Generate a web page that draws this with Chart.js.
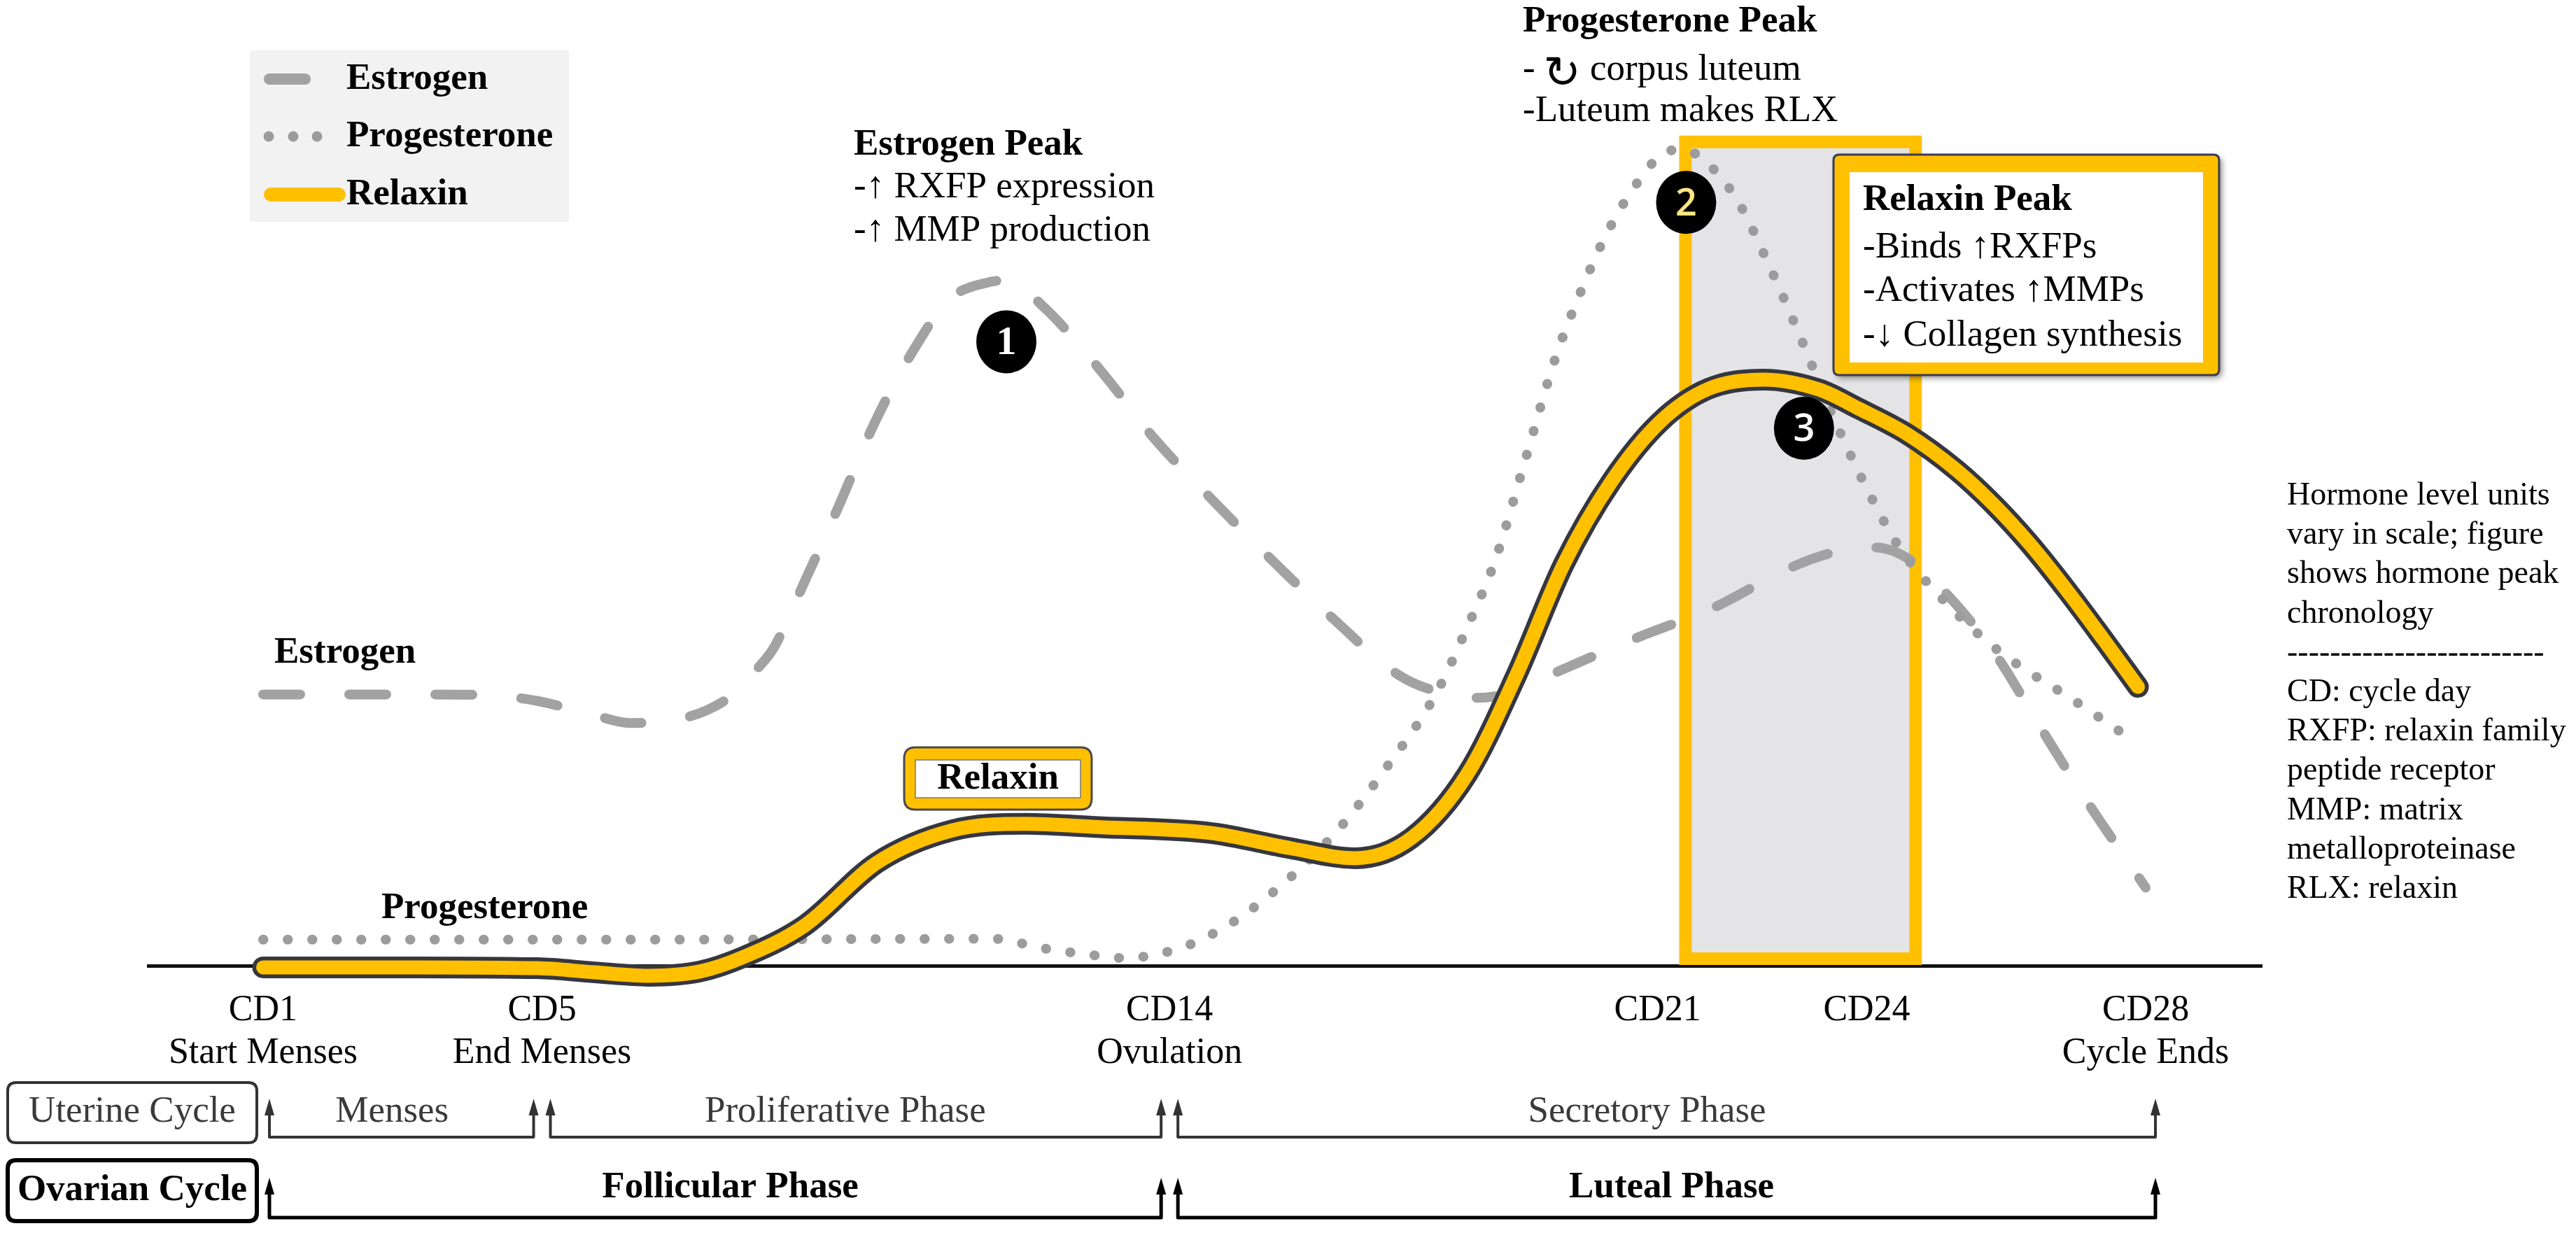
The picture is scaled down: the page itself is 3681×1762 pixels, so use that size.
<!DOCTYPE html>
<html><head><meta charset="utf-8">
<script src="https://cdn.jsdelivr.net/npm/chart.js@4.4.1/dist/chart.umd.min.js"></script>
<style>html,body{margin:0;padding:0;background:#fff;}canvas{display:block;}</style>
</head><body>
<canvas id="c" width="3681" height="1762" style="width:3681px;height:1762px"></canvas>
<script>
// ---------- data ----------
const tickDays = [1, 5, 14, 21, 24, 28];
const tickLabels = [["CD1","Start Menses"],["CD5","End Menses"],["CD14","Ovulation"],["CD21"],["CD24"],["CD28","Cycle Ends"]];

const estrogenDays  = [1.00,2.24,3.45,4.25,4.95,5.76,6.26,6.86,7.36,7.77,8.07,8.32,8.77,9.27,9.75,10.32,10.85,11.41,11.68,12.20,13.02,13.78,14.61,15.47,16.35,17.29,17.90,18.40,18.91,19.51,20.66,21.82,22.88,23.52,24.13,24.63,25.11,25.83,26.49,27.14,28.00];
const estrogenLevel = [32.3,32.3,32.3,32.2,31.5,29.8,28.9,29.2,30.4,32.5,35.2,37.8,45.8,55.0,64.3,73.2,79.4,81.4,81.6,78.4,70.8,62.8,55.5,48.3,41.3,34.6,32.5,31.9,32.5,34.8,38.9,42.7,47.3,49.2,49.8,48.3,44.6,37.3,28.4,19.8,9.3];

const progesteroneDays  = [1.00,6.26,11.48,12.17,12.85,13.39,13.89,14.23,14.93,15.73,16.43,17.12,17.81,18.27,18.68,19.08,19.54,19.89,20.23,20.60,21.06,21.37,21.68,22.14,22.60,23.02,23.57,24.15,24.50,24.98,25.43,25.83,26.23,26.84,27.42,27.84];
const progesteroneLevel = [3.1,3.1,3.2,2.1,1.3,0.9,1.5,2.3,5.3,10.5,16.3,23.7,32.2,40.3,48.5,59.6,72.5,80.1,86.5,91.9,96.6,97.2,95.8,91.2,83.4,75.4,64.4,54.4,49.4,44.6,40.8,37.9,35.5,32.3,29.1,26.7];

const relaxinDays  = [1.00,3.25,4.94,5.76,6.53,7.26,7.88,8.77,9.81,10.88,11.94,12.99,14.59,15.73,16.66,17.47,18.27,18.97,19.66,20.35,21.04,21.73,22.52,23.32,23.87,24.58,25.29,25.81,26.34,26.87,27.40,27.89];
const relaxinLevel = [-0.2,-0.2,-0.3,-0.8,-1.2,-0.7,1.0,4.8,12.3,16.1,16.9,16.5,15.8,14.0,12.8,15.2,22.8,34.5,47.9,57.8,64.8,68.7,69.8,68.6,66.4,63.3,59.0,55.0,50.2,44.7,38.8,33.2];

const peakWindowDays = [21.4, 24.7];
const peakWindowTopLevel = 98.1;

const badgeLabels = ["1", "2", "3"];
const badgeDays   = [11.66, 21.41, 23.10];
const badgeLevels = [74.3, 90.9, 64.0];

const uterinePhases = [["Menses",1,5],["Proliferative Phase",5,14],["Secretory Phase",14,28]];
const ovarianPhases = [["Follicular Phase",1,14],["Luteal Phase",14,28]];

const noteLines = ["Hormone level units","vary in scale; figure","shows hormone peak","chronology","------------------------","CD: cycle day","RXFP: relaxin family","peptide receptor","MMP: matrix","metalloproteinase","RLX: relaxin"];

// ---------- styles ----------
const FAM = '"Liberation Serif","DejaVu Serif","DejaVu Sans",serif';
const GOLD = '#FFC000';
const GREY_E = '#a2a2a2';
const GREY_P = '#9c9c9c';
function fnt(size, bold){ return (bold ? 'bold ' : '') + size + 'px ' + FAM; }
function pts(xs, ys){ return xs.map((x,i)=>({x:x, y:ys[i]})); }
function txt(ctx, s, x, y, o){
  o = o || {};
  ctx.save();
  ctx.font = o.font || fnt(o.size || 53, o.bold);
  ctx.fillStyle = o.color || '#000';
  ctx.textAlign = o.align || 'left';
  ctx.textBaseline = 'middle';
  ctx.fillText(s, x, y);
  ctx.restore();
}
function rr(ctx, x, y, w, h, r){
  ctx.beginPath();
  ctx.moveTo(x+r, y); ctx.lineTo(x+w-r, y); ctx.quadraticCurveTo(x+w, y, x+w, y+r);
  ctx.lineTo(x+w, y+h-r); ctx.quadraticCurveTo(x+w, y+h, x+w-r, y+h);
  ctx.lineTo(x+r, y+h); ctx.quadraticCurveTo(x, y+h, x, y+h-r);
  ctx.lineTo(x, y+r); ctx.quadraticCurveTo(x, y, x+r, y); ctx.closePath();
}
function bracket(ctx, x1, x2, yLine, yTip, lw, color){
  ctx.save();
  ctx.strokeStyle = color; ctx.fillStyle = color; ctx.lineWidth = lw; ctx.lineJoin = 'round';
  ctx.beginPath();
  ctx.moveTo(x1, yTip + 16); ctx.lineTo(x1, yLine); ctx.lineTo(x2, yLine); ctx.lineTo(x2, yTip + 16);
  ctx.stroke();
  [x1, x2].forEach(x => {
    ctx.beginPath(); ctx.moveTo(x, yTip); ctx.lineTo(x - 7, yTip + 24); ctx.lineTo(x + 7, yTip + 24); ctx.closePath(); ctx.fill();
  });
  ctx.restore();
}

const windowPlugin = {
  id: 'peakWindow',
  beforeDatasetsDraw(chart){
    const ctx = chart.ctx, xs = chart.scales.x, ys = chart.scales.y;
    const x1 = xs.getPixelForValue(peakWindowDays[0]), x2 = xs.getPixelForValue(peakWindowDays[1]);
    const yt = ys.getPixelForValue(peakWindowTopLevel), yb = ys.getPixelForValue(0) - 10;
    ctx.save();
    ctx.fillStyle = '#e4e4e7';
    ctx.fillRect(x1, yt, x2 - x1, yb - yt);
    ctx.strokeStyle = GOLD; ctx.lineWidth = 18;
    ctx.strokeRect(x1, yt, x2 - x1, yb - yt);
    ctx.restore();
  }
};

const overlayPlugin = {
  id: 'overlay',
  afterDraw(chart){
    const ctx = chart.ctx, xs = chart.scales.x, ys = chart.scales.y;
    const ds = chart.data.datasets;
    // legend
    ctx.save();
    ctx.fillStyle = '#f2f2f2';
    ctx.fillRect(357, 72, 456, 245);
    const eD = ds.find(d => d.label === 'Estrogen');
    const pD = ds.find(d => d.label === 'Progesterone');
    const rD = ds.find(d => d.label === 'Relaxin');
    ctx.lineCap = 'round';
    ctx.strokeStyle = eD.borderColor; ctx.lineWidth = 16;
    ctx.beginPath(); ctx.moveTo(385, 113); ctx.lineTo(436, 113); ctx.stroke();
    ctx.fillStyle = pD.borderColor;
    [384, 419, 453].forEach(x => { ctx.beginPath(); ctx.arc(x, 195, 7.5, 0, Math.PI*2); ctx.fill(); });
    ctx.strokeStyle = rD.borderColor; ctx.lineWidth = 20;
    ctx.beginPath(); ctx.moveTo(387, 278); ctx.lineTo(484, 278); ctx.stroke();
    ctx.restore();
    txt(ctx, eD.label, 495, 113, {bold:true});
    txt(ctx, pD.label, 495, 195, {bold:true});
    txt(ctx, rD.label, 495, 278, {bold:true});

    // curve labels
    txt(ctx, 'Estrogen', 392, 933, {bold:true});
    txt(ctx, 'Progesterone', 545, 1298, {bold:true});
    // Relaxin label box
    ctx.save();
    rr(ctx, 1292, 1068, 268, 89, 16);
    ctx.fillStyle = GOLD; ctx.fill();
    ctx.lineWidth = 3; ctx.strokeStyle = '#4a4a4a'; ctx.stroke();
    ctx.fillStyle = '#fff'; ctx.fillRect(1308, 1086, 236, 54);
    ctx.lineWidth = 1.5; ctx.strokeStyle = '#777'; ctx.strokeRect(1308, 1086, 236, 54);
    ctx.restore();
    txt(ctx, 'Relaxin', 1426, 1113, {bold:true, align:'center'});

    // annotations
    txt(ctx, 'Estrogen Peak', 1220, 207, {bold:true});
    txt(ctx, '-\u2191 RXFP expression', 1220, 268);
    txt(ctx, '-\u2191 MMP production', 1220, 330);
    txt(ctx, 'Progesterone Peak', 2176, 31, {bold:true});
    txt(ctx, '-', 2176, 100);
    txt(ctx, '\u21BB', 2232, 108, {font: '64px "DejaVu Sans", sans-serif', align:'center'});
    txt(ctx, 'corpus luteum', 2272, 100);
    txt(ctx, '-Luteum makes RLX', 2176, 159);

    // Relaxin Peak box
    ctx.save();
    ctx.shadowColor = 'rgba(0,0,0,0.45)'; ctx.shadowBlur = 8; ctx.shadowOffsetX = 4; ctx.shadowOffsetY = 4;
    rr(ctx, 2620, 221, 551, 315, 8);
    ctx.fillStyle = GOLD; ctx.fill();
    ctx.shadowColor = 'transparent';
    ctx.lineWidth = 3; ctx.strokeStyle = '#3b3b55'; ctx.stroke();
    ctx.fillStyle = '#fff'; ctx.fillRect(2643, 246, 505, 272);
    ctx.restore();
    txt(ctx, 'Relaxin Peak', 2662, 286, {bold:true});
    txt(ctx, '-Binds \u2191RXFPs', 2662, 354);
    txt(ctx, '-Activates \u2191MMPs', 2662, 416);
    txt(ctx, '-\u2193 Collagen synthesis', 2662, 480);

    // badges
    badgeLabels.forEach((b, i) => {
      const x = xs.getPixelForValue(badgeDays[i]), y = ys.getPixelForValue(badgeLevels[i]);
      ctx.save();
      ctx.fillStyle = '#000';
      ctx.beginPath(); ctx.ellipse(x, y, 43, 45, 0, 0, Math.PI*2); ctx.fill();
      ctx.fillStyle = (b === '2') ? '#ffe680' : '#fff';
      ctx.font = (b === '1' ? 'bold 58px ' + FAM : '600 54px "Open Sans", sans-serif');
      ctx.textAlign = 'center'; ctx.textBaseline = 'middle';
      ctx.fillText(b, x, y + 3);
      ctx.restore();
    });

    // right note
    noteLines.forEach((l, i) => txt(ctx, l, 3268, 709 + i * 56.2, {size:46}));

    // cycle rows
    ctx.save();
    rr(ctx, 11, 1547, 356, 86, 12);
    ctx.lineWidth = 4; ctx.strokeStyle = '#333'; ctx.stroke();
    rr(ctx, 11, 1658, 356, 87, 12);
    ctx.lineWidth = 6; ctx.strokeStyle = '#000'; ctx.stroke();
    ctx.restore();
    txt(ctx, 'Uterine Cycle', 189, 1589, {size:53, color:'#3a3a3a', align:'center'});
    txt(ctx, 'Ovarian Cycle', 189, 1701, {size:53, bold:true, align:'center'});

    const endPx = (d, first) => xs.getPixelForValue(d) + (d === 1 ? 9 : (d === 28 ? 14 : (first ? 12 : -12)));
    uterinePhases.forEach(([name, a, b]) => {
      bracket(ctx, endPx(a, true), endPx(b, false), 1625, 1570, 4, '#333');
      txt(ctx, name, (xs.getPixelForValue(a) + xs.getPixelForValue(b)) / 2 - 15, 1589, {size:53, color:'#3a3a3a', align:'center'});
    });
    ovarianPhases.forEach(([name, a, b]) => {
      bracket(ctx, endPx(a, true), endPx(b, false), 1740, 1683, 5, '#000');
      txt(ctx, name, (xs.getPixelForValue(a) + xs.getPixelForValue(b)) / 2 + 20, 1697, {size:53, bold:true, align:'center'});
    });
  }
};

new Chart(document.getElementById('c'), {
  type: 'line',
  data: {
    datasets: [
      { label: 'Relaxin', data: pts(relaxinDays, relaxinLevel), borderColor: GOLD, borderWidth: 20,
        borderCapStyle: 'round', borderJoinStyle: 'round', pointRadius: 0, cubicInterpolationMode: 'monotone', clip: false, order: 0 },
      { label: 'Relaxin outline', data: pts(relaxinDays, relaxinLevel), borderColor: '#35363f', borderWidth: 31,
        borderCapStyle: 'round', borderJoinStyle: 'round', pointRadius: 0, cubicInterpolationMode: 'monotone', clip: false, order: 1 },
      { label: 'Progesterone', data: pts(progesteroneDays, progesteroneLevel), borderColor: GREY_P, borderWidth: 14,
        borderDash: [0.5, 34.5], borderCapStyle: 'round', pointRadius: 0, cubicInterpolationMode: 'monotone', clip: false, order: 2 },
      { label: 'Estrogen', data: pts(estrogenDays, estrogenLevel), borderColor: GREY_E, borderWidth: 14,
        borderDash: [53, 70], borderCapStyle: 'round', pointRadius: 0, cubicInterpolationMode: 'monotone', clip: false, order: 3 }
    ]
  },
  options: {
    responsive: false, animation: false, devicePixelRatio: 1,
    layout: { padding: { left: 212, right: 449, top: 180, bottom: 0 } },
    plugins: { legend: { display: false }, tooltip: { enabled: false } },
    scales: {
      x: {
        type: 'linear', min: -0.646, max: 29.666,
        grid: { display: false, drawTicks: false },
        border: { display: true, color: '#111', width: 5 },
        afterBuildTicks: s => { s.ticks = tickDays.map(v => ({ value: v })); },
        afterFit: s => { s.height = 382; },
        ticks: {
          autoSkip: false, maxRotation: 0, minRotation: 0, padding: 34, color: '#000',
          font: { family: FAM, size: 52, lineHeight: 1.17 },
          callback: (v) => { const i = tickDays.indexOf(v); return i >= 0 ? tickLabels[i] : ''; }
        }
      },
      y: { type: 'linear', min: 0, max: 100, display: false }
    }
  },
  plugins: [windowPlugin, overlayPlugin]
});
</script>
</body></html>
